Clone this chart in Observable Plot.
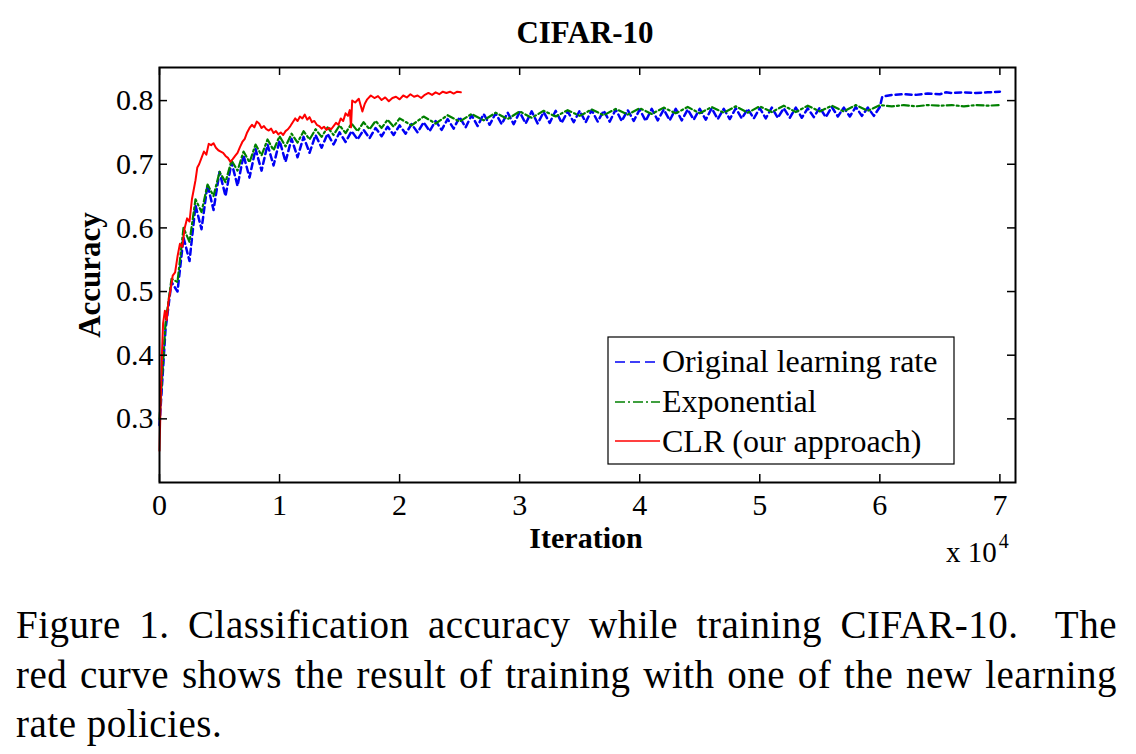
<!DOCTYPE html>
<html>
<head>
<meta charset="utf-8">
<script src="https://cdn.jsdelivr.net/npm/d3@7"></script>
<script src="https://cdn.jsdelivr.net/npm/@observablehq/plot@0.6"></script>
<style>
  body { margin: 0; background: #fff; }
  #wrap { position: relative; width: 1136px; height: 754px; overflow: hidden; font-family: "Liberation Serif", "Times New Roman", serif; color: #000; }
  .abs { position: absolute; white-space: nowrap; }
  .cap { position: absolute; left: 16px; width: 1101px; font-size: 39px; line-height: 39px; letter-spacing: 0.5px; white-space: nowrap; }
  .just { text-align: justify; text-align-last: justify; }
</style>
</head>
<body>
<div id="wrap"></div>
<script>
// ---- data (iteration, accuracy) ----
const xTicks = [0, 10000, 20000, 30000, 40000, 50000, 60000, 70000];
const yTicks = [0.3, 0.4, 0.5, 0.6, 0.7, 0.8];
const seriesNames = ["Original learning rate", "Exponential", "CLR (our approach)"];

const original = [
  [0,0.29],[500,0.44],[1000,0.515],[1500,0.50],[2000,0.585],[2500,0.548],[3000,0.635],[3500,0.598],
  [4000,0.668],[4500,0.628],[5000,0.688],[5500,0.650],[6000,0.703],[6500,0.666],[7000,0.714],[7500,0.679],
  [8000,0.724],[8500,0.690],[9000,0.731],[9500,0.698],[10000,0.737],[10500,0.704],[11000,0.740],[11500,0.711],
  [12000,0.743],[12500,0.718],[13000,0.746],[13500,0.726],[14000,0.748],[14500,0.731],[15000,0.750],[15500,0.735],
  [16000,0.752],[16500,0.739],[17000,0.754],[17500,0.741],[18000,0.757],[18500,0.744],[19000,0.759],[19500,0.746],
  [20000,0.761],[20500,0.748],[21000,0.763],[21500,0.750],[22000,0.766],[22500,0.752],[23000,0.768],[23500,0.754],
  [24000,0.771],[24500,0.756],[25000,0.774],[25500,0.758],[26000,0.777],[26500,0.760],[27000,0.779],[27500,0.762],
  [28000,0.780],[28500,0.763],[29000,0.781],[29500,0.763],[30000,0.782],[30500,0.764],[31000,0.783],[31500,0.764],
  [32000,0.782],[32500,0.765],[33000,0.784],[33500,0.765],[34000,0.783],[34500,0.766],[35000,0.784],[35500,0.766],
  [36000,0.785],[36500,0.767],[37000,0.784],[37500,0.767],[38000,0.786],[38500,0.768],[39000,0.785],[39500,0.768],
  [40000,0.786],[40500,0.768],[41000,0.787],[41500,0.769],[42000,0.786],[42500,0.769],[43000,0.787],[43500,0.769],
  [44000,0.786],[44500,0.770],[45000,0.787],[45500,0.770],[46000,0.788],[46500,0.771],[47000,0.787],[47500,0.771],
  [48000,0.788],[48500,0.772],[49000,0.787],[49500,0.772],[50000,0.788],[50500,0.772],[51000,0.789],[51500,0.773],
  [52000,0.788],[52500,0.773],[53000,0.789],[53500,0.773],[54000,0.788],[54500,0.774],[55000,0.789],[55500,0.774],
  [56000,0.790],[56500,0.775],[57000,0.789],[57500,0.775],[58000,0.790],[58500,0.776],[59000,0.789],[59500,0.776],
  [60000,0.790],[60200,0.806],[61000,0.809],[62000,0.810],[63000,0.809],[64000,0.811],[65000,0.810],[65500,0.813],
  [66000,0.812],[67000,0.813],[68000,0.812],[69000,0.813],[70000,0.814]
];

const exponential = [
  [0,0.30],[500,0.45],[1000,0.52],[1500,0.515],[2000,0.60],[2500,0.578],[3000,0.645],[3500,0.625],
  [4000,0.668],[4500,0.650],[5000,0.688],[5500,0.672],[6000,0.706],[6500,0.690],[7000,0.720],[7500,0.703],
  [8000,0.731],[8500,0.714],[9000,0.739],[9500,0.722],[10000,0.744],[10500,0.728],[11000,0.748],[11500,0.734],
  [12000,0.752],[12500,0.739],[13000,0.755],[13500,0.743],[14000,0.758],[14500,0.746],[15000,0.761],[15500,0.749],
  [16000,0.764],[16500,0.752],[17000,0.766],[17500,0.755],[18000,0.768],[18500,0.757],[19000,0.770],[19500,0.759],
  [20000,0.772],[21000,0.761],[22000,0.775],[23000,0.764],[24000,0.777],[25000,0.767],[26000,0.779],[27000,0.769],
  [28000,0.781],[29000,0.771],[30000,0.783],[31000,0.773],[32000,0.784],[33000,0.775],[34000,0.785],[35000,0.776],
  [36000,0.786],[37000,0.777],[38000,0.787],[39000,0.778],[40000,0.788],[41000,0.779],[42000,0.789],[43000,0.780],
  [44000,0.790],[45000,0.780],[46000,0.790],[47000,0.781],[48000,0.791],[49000,0.781],[50000,0.791],[51000,0.782],
  [52000,0.792],[53000,0.782],[54000,0.792],[55000,0.783],[56000,0.792],[57000,0.783],[58000,0.793],[59000,0.784],
  [60000,0.793],[61000,0.791],[62000,0.793],[63000,0.791],[64000,0.793],[65000,0.792],[66000,0.793],[67000,0.791],
  [68000,0.793],[69000,0.792],[70000,0.793]
];

const clr = [
  [0,0.25],[100,0.33],[200,0.40],[300,0.45],[450,0.47],[600,0.455],[750,0.485],[900,0.50],[1100,0.525],
  [1300,0.53],[1500,0.555],[1700,0.575],[1900,0.57],[2100,0.60],[2300,0.615],[2500,0.61],[2700,0.645],
  [2850,0.66],[3000,0.675],[3150,0.695],[3300,0.70],[3500,0.71],[3700,0.72],[3900,0.715],[4100,0.732],
  [4300,0.73],[4500,0.733],[4700,0.726],[4900,0.722],[5100,0.72],[5300,0.718],[5500,0.713],[5700,0.71],
  [5900,0.704],[6100,0.708],[6300,0.713],[6500,0.718],[6700,0.727],[6900,0.735],[7100,0.74],[7300,0.75],
  [7500,0.757],[7700,0.762],[7900,0.758],[8100,0.767],[8300,0.764],[8500,0.757],[8700,0.76],[8900,0.755],
  [9100,0.753],[9300,0.756],[9500,0.749],[9700,0.752],[9900,0.747],[10100,0.75],[10300,0.746],[10500,0.752],
  [10700,0.755],[10900,0.76],[11100,0.766],[11300,0.772],[11500,0.768],[11700,0.775],[11900,0.772],[12100,0.778],
  [12300,0.77],[12500,0.774],[12700,0.766],[12900,0.768],[13100,0.762],[13300,0.76],[13500,0.756],[13700,0.759],
  [13900,0.754],[14100,0.757],[14300,0.755],[14500,0.76],[14700,0.765],[14900,0.762],[15100,0.772],[15300,0.768],
  [15500,0.78],[15700,0.776],[15850,0.785],[15950,0.758],[16050,0.80],[16300,0.797],[16600,0.803],[16900,0.783],
  [17100,0.795],[17300,0.802],[17600,0.808],[17900,0.804],[18200,0.807],[18500,0.801],[18800,0.805],[19100,0.799],
  [19400,0.804],[19700,0.806],[20000,0.802],[20300,0.808],[20600,0.805],[20900,0.81],[21200,0.806],[21500,0.808],
  [21800,0.804],[22100,0.809],[22400,0.812],[22700,0.809],[23000,0.813],[23300,0.81],[23600,0.814],[23900,0.812],
  [24200,0.814],[24500,0.811],[24800,0.814],[25100,0.813]
];

const colors = ["#0000f5", "#008000", "#ff0000"];

// ---- chart ----
const W = 1136, H = 570;
const mL = 159, mR = 121, mT = 67, mB = 88;
const fw = W - mL - mR, fh = H - mT - mB;
const tickLen = 8;
const font = '"Liberation Serif", "Times New Roman", serif';

const chart = Plot.plot({
  width: W, height: H,
  marginLeft: mL, marginRight: mR, marginTop: mT, marginBottom: mB,
  style: { fontFamily: font, fontSize: "30px", color: "#000", background: "transparent" },
  x: { domain: [0, 71300], label: null },
  y: { domain: [0.2, 0.852], label: null },
  marks: [
    Plot.line(original, { x: d => d[0], y: d => d[1], stroke: colors[0], strokeWidth: 2.5, strokeDasharray: "6,4" }),
    Plot.line(exponential, { x: d => d[0], y: d => d[1], stroke: colors[1], strokeWidth: 2.2, strokeDasharray: "7,3,2,3" }),
    Plot.line(clr, { x: d => d[0], y: d => d[1], stroke: colors[2], strokeWidth: 2 }),
    Plot.tickX(xTicks, { x: d => d, stroke: "#000", strokeWidth: 1.5, insetTop: fh - tickLen }),
    Plot.tickX(xTicks, { x: d => d, stroke: "#000", strokeWidth: 1.5, insetBottom: fh - tickLen }),
    Plot.tickY(yTicks, { y: d => d, stroke: "#000", strokeWidth: 1.5, insetRight: fw - tickLen }),
    Plot.tickY(yTicks, { y: d => d, stroke: "#000", strokeWidth: 1.5, insetLeft: fw - tickLen }),
    Plot.axisX(xTicks, { tickSize: 0, tickPadding: 11, tickFormat: d => d / 10000, fontSize: 30, label: null }),
    Plot.axisY(yTicks, { tickSize: 0, tickPadding: 6, tickFormat: d => d.toFixed(1), fontSize: 30, label: null }),
    Plot.frame({ stroke: "#000", strokeWidth: 2 })
  ]
});
chart.style.position = "absolute";
chart.style.left = "0px";
chart.style.top = "0px";

const wrap = document.getElementById("wrap");
wrap.appendChild(chart);

function addDiv(text, css, cls) {
  const d = document.createElement("div");
  d.className = cls || "abs";
  d.textContent = text;
  Object.assign(d.style, css);
  wrap.appendChild(d);
  return d;
}

// title
addDiv("CIFAR-10", { left: "385px", top: "17px", width: "400px", textAlign: "center", fontSize: "31px", lineHeight: "31px", fontWeight: "bold" });
// axis labels
addDiv("Accuracy", { left: "-10px", top: "259px", width: "200px", height: "32px", textAlign: "center", fontSize: "31px", lineHeight: "32px", fontWeight: "bold", transform: "rotate(-90deg)", transformOrigin: "50% 50%" });
addDiv("Iteration", { left: "386px", top: "523px", width: "400px", textAlign: "center", fontSize: "30px", lineHeight: "30px", fontWeight: "bold" });
// exponent
const ex = addDiv("x 10", { left: "946px", top: "538px", fontSize: "29px", lineHeight: "29px" });
const sup = document.createElement("span");
sup.textContent = "4";
sup.style.fontSize = "20px";
sup.style.position = "relative";
sup.style.top = "-14px";
sup.style.marginLeft = "2px";
ex.appendChild(sup);

// legend
const ns = "http://www.w3.org/2000/svg";
const leg = document.createElementNS(ns, "svg");
leg.setAttribute("width", "348");
leg.setAttribute("height", "129");
leg.style.position = "absolute";
leg.style.left = "607px";
leg.style.top = "336px";
const rect = document.createElementNS(ns, "rect");
rect.setAttribute("x", "1"); rect.setAttribute("y", "1");
rect.setAttribute("width", "346"); rect.setAttribute("height", "127");
rect.setAttribute("fill", "#fff"); rect.setAttribute("stroke", "#000"); rect.setAttribute("stroke-width", "1.2");
leg.appendChild(rect);
const dashes = ["10,5", "10,3,2,3", null];
const lineY = [26, 66, 105];
const baseY = [36, 76, 116];
seriesNames.forEach((name, i) => {
  const ln = document.createElementNS(ns, "line");
  ln.setAttribute("x1", "8"); ln.setAttribute("x2", "53");
  ln.setAttribute("y1", lineY[i]); ln.setAttribute("y2", lineY[i]);
  ln.setAttribute("stroke", colors[i]); ln.setAttribute("stroke-width", "1.6");
  if (dashes[i]) ln.setAttribute("stroke-dasharray", dashes[i]);
  leg.appendChild(ln);
  const t = document.createElementNS(ns, "text");
  t.setAttribute("x", "55"); t.setAttribute("y", baseY[i]);
  t.setAttribute("font-family", font);
  t.setAttribute("font-size", "32");
  t.setAttribute("fill", "#000");
  t.textContent = name;
  leg.appendChild(t);
});
wrap.appendChild(leg);

// caption
addDiv("Figure 1. Classification accuracy while training CIFAR-10.\u00a0 The", { top: "605px" }, "cap just");
addDiv("red curve shows the result of training with one of the new learning", { top: "655px" }, "cap just");
addDiv("rate policies.", { top: "704px" }, "cap");
</script>
</body>
</html>
